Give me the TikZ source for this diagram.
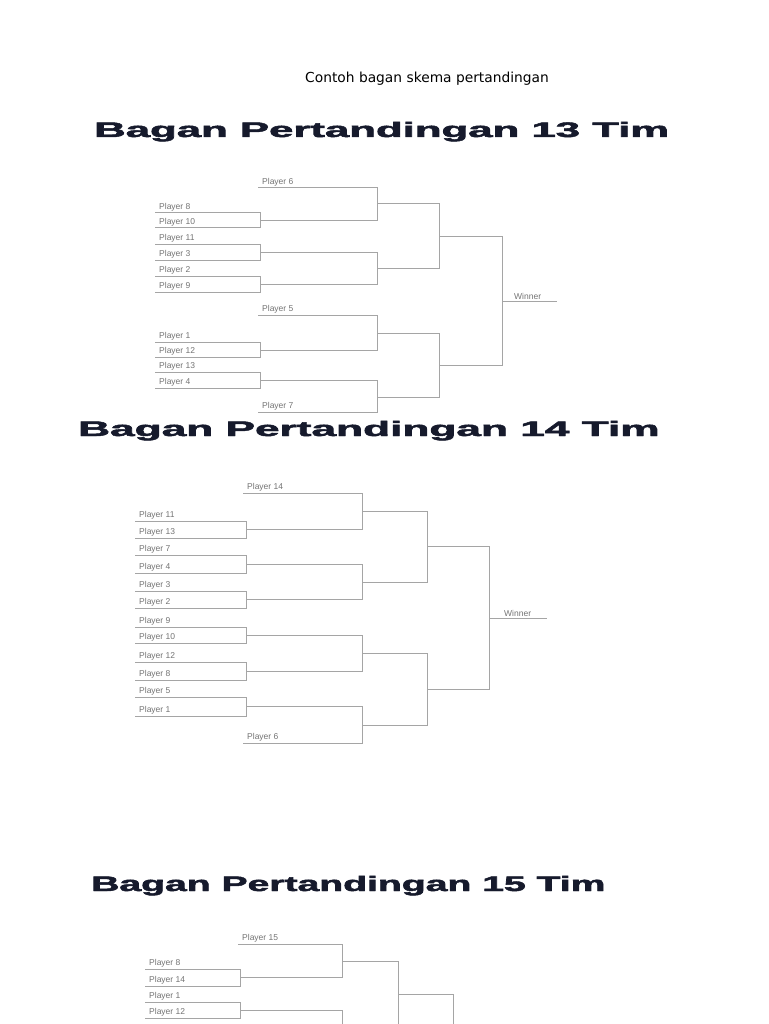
\documentclass[tikz,border=0pt]{standalone}
\usepackage{fontspec}
\setmainfont{Liberation Sans}
\newfontfamily\subfont{DejaVu Sans}
\newfontfamily\titlefont[FakeBold=2]{Liberation Sans}
\usepackage{graphicx}

\definecolor{linegray}{RGB}{165,165,165}
\definecolor{labelgray}{RGB}{115,115,115}
\definecolor{titlenavy}{RGB}{22,26,44}

\tikzset{
  player/.style={anchor=south west, inner xsep=4pt, inner ysep=1.2pt,
    font=\fontsize{8.5}{9}\selectfont, text=labelgray},
  bracketline/.style={draw=linegray, line width=1pt},
  bigtitle/.style={anchor=base west, inner sep=0pt,
    font=\titlefont\fontsize{21}{24}\selectfont\bfseries, text=titlenavy}
}

\begin{document}
\begin{tikzpicture}[x=1pt, y=-1pt]
\useasboundingbox (0,0) rectangle (768,1024);
\clip (0,0) rectangle (768,1024);

% Titles
\node[anchor=base west, inner sep=0pt, font=\subfont\fontsize{13.8}{16}\selectfont] (sub) at (305,83) {Contoh bagan skema pertandingan};
\node[bigtitle] (t13) at (94,137) {\scalebox{2.082}[1]{Bagan Pertandingan 13 Tim}};
\node[bigtitle] (t14) at (78,436) {\scalebox{2.105}[1]{Bagan Pertandingan 14 Tim}};
\node[bigtitle] (t15) at (91,891) {\scalebox{1.862}[1]{Bagan Pertandingan 15 Tim}};

% Bracket 13 Tim
\node[player] (a6)  at (258,188) {Player 6};
\node[player] (a8)  at (155,213) {Player 8};
\node[player] (a10) at (155,228) {Player 10};
\node[player] (a11) at (155,244) {Player 11};
\node[player] (a3)  at (155,260) {Player 3};
\node[player] (a2)  at (155,276) {Player 2};
\node[player] (a9)  at (155,292) {Player 9};
\node[player] (a5)  at (258,315) {Player 5};
\node[player] (a1)  at (155,342) {Player 1};
\node[player] (a12) at (155,357) {Player 12};
\node[player] (a13) at (155,372) {Player 13};
\node[player] (a4)  at (155,388) {Player 4};
\node[player] (a7)  at (258,412) {Player 7};
\node[player] (aw)  at (510,301) {Winner};
\coordinate (am1) at (260,221);
\coordinate (am2) at (260,252);
\coordinate (am3) at (260,284);
\coordinate (am4) at (260,350);
\coordinate (am5) at (260,380);
\coordinate (aq1) at (377,204);
\coordinate (aq2) at (377,268);
\coordinate (aq3) at (377,333);
\coordinate (aq4) at (377,397);
\coordinate (as1) at (439,236);
\coordinate (as2) at (439,365);
\coordinate (af)  at (502,301);
\coordinate (ae)  at (557,301);

\draw[bracketline] (a8.south west) -| (am1) (a10.south west) -| (am1);
\draw[bracketline] (a11.south west) -| (am2) (a3.south west) -| (am2);
\draw[bracketline] (a2.south west) -| (am3) (a9.south west) -| (am3);
\draw[bracketline] (a1.south west) -| (am4) (a12.south west) -| (am4);
\draw[bracketline] (a13.south west) -| (am5) (a4.south west) -| (am5);
\draw[bracketline] (a6.south west) -| (aq1) (am1) -| (aq1);
\draw[bracketline] (am2) -| (aq2) (am3) -| (aq2);
\draw[bracketline] (a5.south west) -| (aq3) (am4) -| (aq3);
\draw[bracketline] (am5) -| (aq4) (a7.south west) -| (aq4);
\draw[bracketline] (aq1) -| (as1) (aq2) -| (as1);
\draw[bracketline] (aq3) -| (as2) (aq4) -| (as2);
\draw[bracketline] (as1) -| (af) (as2) -| (af);
\draw[bracketline] (af) -- (ae);

% Bracket 14 Tim
\node[player] (b14) at (243,493) {Player 14};
\node[player] (b11) at (135,521) {Player 11};
\node[player] (b13) at (135,538) {Player 13};
\node[player] (b7)  at (135,555) {Player 7};
\node[player] (b4)  at (135,573) {Player 4};
\node[player] (b3)  at (135,591) {Player 3};
\node[player] (b2)  at (135,608) {Player 2};
\node[player] (b9)  at (135,627) {Player 9};
\node[player] (b10) at (135,643) {Player 10};
\node[player] (b12) at (135,662) {Player 12};
\node[player] (b8)  at (135,680) {Player 8};
\node[player] (b5)  at (135,697) {Player 5};
\node[player] (b1)  at (135,716) {Player 1};
\node[player] (b6)  at (243,743) {Player 6};
\node[player] (bw)  at (500,618) {Winner};
\coordinate (bm1) at (246,529);
\coordinate (bm2) at (246,564);
\coordinate (bm3) at (246,599);
\coordinate (bm4) at (246,635);
\coordinate (bm5) at (246,671);
\coordinate (bm6) at (246,706);
\coordinate (bq1) at (362,511);
\coordinate (bq2) at (362,582);
\coordinate (bq3) at (362,653);
\coordinate (bq4) at (362,725);
\coordinate (bs1) at (427,546);
\coordinate (bs2) at (427,689);
\coordinate (bf)  at (489,618);
\coordinate (be)  at (547,618);

\draw[bracketline] (b11.south west) -| (bm1) (b13.south west) -| (bm1);
\draw[bracketline] (b7.south west) -| (bm2) (b4.south west) -| (bm2);
\draw[bracketline] (b3.south west) -| (bm3) (b2.south west) -| (bm3);
\draw[bracketline] (b9.south west) -| (bm4) (b10.south west) -| (bm4);
\draw[bracketline] (b12.south west) -| (bm5) (b8.south west) -| (bm5);
\draw[bracketline] (b5.south west) -| (bm6) (b1.south west) -| (bm6);
\draw[bracketline] (b14.south west) -| (bq1) (bm1) -| (bq1);
\draw[bracketline] (bm2) -| (bq2) (bm3) -| (bq2);
\draw[bracketline] (bm4) -| (bq3) (bm5) -| (bq3);
\draw[bracketline] (bm6) -| (bq4) (b6.south west) -| (bq4);
\draw[bracketline] (bq1) -| (bs1) (bq2) -| (bs1);
\draw[bracketline] (bq3) -| (bs2) (bq4) -| (bs2);
\draw[bracketline] (bs1) -| (bf) (bs2) -| (bf);
\draw[bracketline] (bf) -- (be);

% Bracket 15 Tim (runs off the page)
\node[player] (c15) at (238,944) {Player 15};
\node[player] (c8)  at (145,969) {Player 8};
\node[player] (c14) at (145,986) {Player 14};
\node[player] (c1)  at (145,1002) {Player 1};
\node[player] (c12) at (145,1018) {Player 12};
\coordinate (cm1) at (240,977);
\coordinate (cm2) at (240,1010);
\coordinate (cq1) at (342,961);
\coordinate (cq2) at (342,1030);
\coordinate (cs1) at (398,994);
\coordinate (cf)  at (453,1100);

\draw[bracketline] (c8.south west) -| (cm1) (c14.south west) -| (cm1);
\draw[bracketline] (c1.south west) -| (cm2) (c12.south west) -| (cm2);
\draw[bracketline] (c15.south west) -| (cq1) (cm1) -| (cq1);
\draw[bracketline] (cm2) -| (cq2);
\draw[bracketline] (cq1) -| (cs1) (cq2) -| (cs1);
\draw[bracketline] (cs1) -| (cf);

\end{tikzpicture}
\end{document}
